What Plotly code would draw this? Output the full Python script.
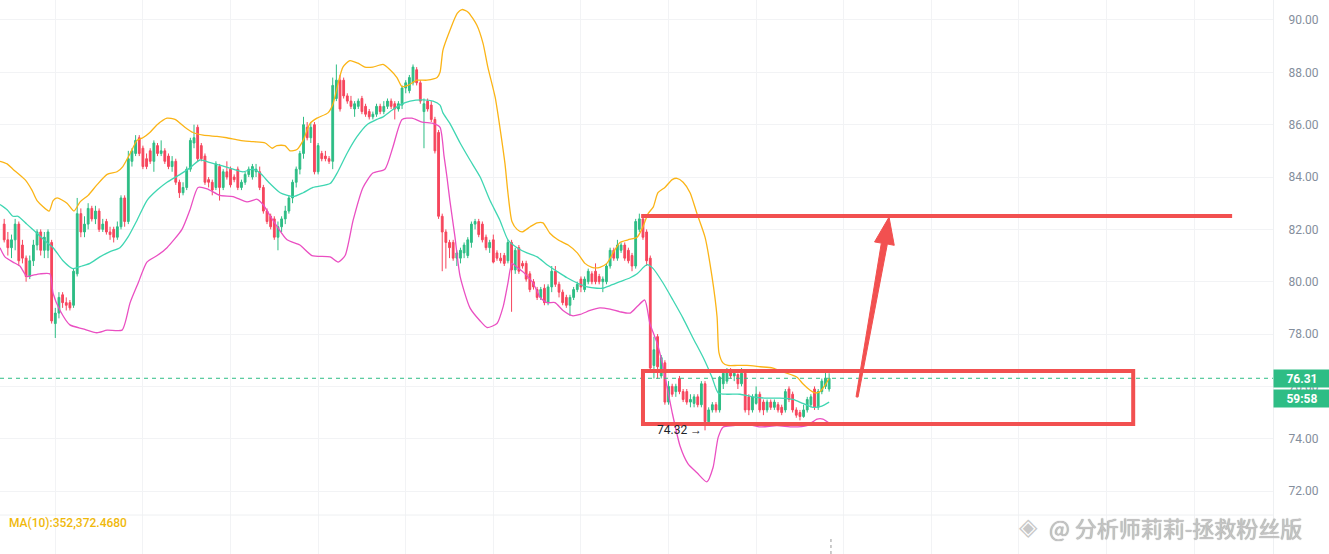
import plotly.graph_objects as go

# ---------------- data ----------------
opens = [
    82.2, 81.6, 81.3, 81.6, 82.2, 81.4, 80.9, 80.2, 80.8, 81.4,
    81.9, 81.2, 81.2, 81.5, 78.4, 78.8, 79.5, 79.2, 79.2, 79.1,
    80.3, 82.6, 81.9, 82.2, 82.8, 82.4, 82.7, 82.0, 82.3, 81.9,
    82.0, 81.7, 82.1, 83.2, 82.3, 84.6, 84.9, 85.5, 85.1, 84.7,
    85.0, 84.6, 85.2, 84.9, 85.0, 84.8, 84.4, 84.6, 83.8, 83.4,
    83.6, 84.3, 85.3, 85.9, 85.2, 84.8, 83.9, 83.8, 83.6, 84.4,
    83.6, 84.2, 84.3, 84.0, 84.3, 83.6, 83.8, 84.1, 84.0, 84.2,
    84.2, 83.6, 82.7, 82.5, 82.4, 81.7, 82.1, 82.4, 82.7, 83.2,
    83.8, 84.3, 84.9, 85.9, 85.5, 86.0, 84.2, 84.9, 84.8, 84.7,
    84.6, 87.0, 87.7, 87.7, 87.1, 86.9, 86.6, 86.7, 87.0, 86.7,
    86.5, 86.3, 86.4, 86.7, 86.5, 86.7, 86.9, 86.8, 86.6, 86.75,
    87.4, 87.3, 87.6, 88.1, 87.6, 86.5, 86.9, 86.75, 86.2, 85.7,
    82.5, 81.9, 81.5, 81.5, 80.9, 80.9, 81.1, 81.0, 81.5, 82.2,
    82.3, 82.2, 81.7, 81.3, 81.6, 81.1, 80.9, 81.0, 80.8, 81.5,
    80.45, 81.3, 80.7, 80.7, 80.3, 80.0, 79.7, 79.4, 79.75, 79.2,
    79.8, 80.4, 79.9, 79.6, 79.4, 79.1, 79.4, 79.7, 80.1, 79.7,
    80.0, 80.3, 80.4, 80.2, 80.0, 80.0, 80.6, 81.2, 80.9, 81.2,
    81.4, 81.2, 81.0, 80.6, 82.0, 82.4, 81.9, 80.9, 76.8, 77.9,
    76.4, 76.9, 75.4, 76.0, 75.8, 76.3, 75.8, 75.8, 75.4, 75.35,
    75.6, 75.3, 76.1, 74.65, 75.1, 75.3, 75.1, 76.1, 76.2, 76.6,
    76.4, 76.45, 76.1, 76.5, 75.6, 75.1, 75.35, 75.7, 75.4, 75.1,
    75.4, 75.2, 75.3, 75.2, 75.1, 75.9, 75.7, 75.1, 75.0, 74.85,
    75.1, 75.3, 75.9, 75.2, 75.8, 76.0, 75.9,
]
highs = [
    82.4, 81.9, 81.8, 82.4, 82.3, 81.6, 81.0, 81.0, 81.6, 82.0,
    82.0, 81.9, 82.0, 81.6, 79.0, 79.6, 79.6, 79.4, 79.3, 80.5,
    83.2, 82.8, 82.5, 83.0, 82.9, 82.9, 82.8, 82.4, 82.4, 82.1,
    82.1, 82.3, 83.3, 83.3, 85.0, 85.1, 85.6, 85.6, 85.2, 84.9,
    85.1, 85.4, 85.3, 85.4, 85.1, 84.9, 84.8, 84.7, 83.9, 83.8,
    84.4, 85.5, 86.0, 86.0, 85.3, 84.9, 84.0, 83.9, 84.6, 84.5,
    84.3, 84.6, 84.4, 84.1, 84.4, 83.9, 84.2, 84.4, 84.5, 84.5,
    84.4, 83.7, 82.8, 82.6, 82.5, 82.3, 82.5, 82.9, 83.3, 83.9,
    84.4, 85.0, 86.3, 86.1, 86.1, 86.1, 85.3, 85.0, 85.0, 84.8,
    87.8, 88.3, 87.9, 87.8, 87.2, 87.1, 86.9, 87.0, 87.1, 86.8,
    86.6, 86.5, 86.8, 86.8, 86.9, 87.0, 87.0, 86.9, 86.9, 87.5,
    87.7, 87.9, 88.3, 88.2, 87.7, 87.0, 87.0, 86.9, 86.3, 85.8,
    82.6, 82.0, 81.6, 81.6, 81.2, 81.3, 81.5, 81.7, 82.3, 82.4,
    82.4, 82.3, 81.8, 81.6, 81.8, 81.2, 81.1, 81.1, 81.6, 81.6,
    81.3, 81.4, 80.8, 80.8, 80.4, 80.1, 79.8, 79.8, 79.9, 79.9,
    80.6, 80.6, 80.0, 79.7, 79.5, 79.5, 79.8, 80.0, 80.2, 80.2,
    80.5, 80.4, 80.7, 80.3, 80.2, 80.7, 81.3, 81.3, 81.6, 81.5,
    81.5, 81.3, 81.1, 82.4, 82.6, 82.5, 82.0, 81.0, 77.9, 78.0,
    77.2, 77.0, 76.2, 76.1, 76.1, 76.4, 75.9, 75.9, 75.7, 75.7,
    75.7, 76.2, 76.2, 75.2, 75.4, 75.4, 76.4, 76.6, 76.7, 76.7,
    76.6, 76.5, 76.7, 76.6, 75.7, 75.7, 76.0, 75.8, 75.5, 75.5,
    75.5, 75.5, 75.4, 75.3, 75.9, 76.0, 75.8, 75.2, 75.1, 75.3,
    75.6, 75.7, 76.0, 75.9, 76.3, 76.6, 76.5,
]
lows = [
    81.5, 81.0, 80.9, 81.2, 80.6, 80.7, 80.0, 80.1, 80.6, 81.2,
    81.0, 80.9, 80.9, 78.4, 77.85, 78.6, 79.0, 78.9, 78.9, 79.0,
    80.2, 81.7, 81.7, 82.0, 82.3, 82.2, 81.9, 81.9, 81.8, 81.6,
    81.5, 81.6, 82.0, 82.1, 82.2, 84.4, 84.8, 84.8, 84.3, 84.3,
    84.5, 84.2, 84.8, 84.8, 84.5, 84.3, 84.2, 83.7, 83.2, 83.3,
    83.5, 84.2, 85.1, 84.6, 84.6, 83.7, 83.6, 83.3, 83.5, 83.1,
    83.5, 83.9, 83.6, 83.8, 83.5, 83.5, 83.7, 84.0, 83.9, 84.0,
    83.5, 82.6, 82.2, 82.0, 81.6, 81.2, 81.9, 82.2, 82.6, 83.0,
    83.6, 84.1, 84.7, 85.4, 85.3, 84.1, 84.1, 84.6, 84.6, 84.5,
    84.3, 86.9, 86.5, 87.0, 86.8, 86.6, 86.3, 86.6, 86.4, 86.3,
    86.2, 86.2, 86.3, 86.4, 86.4, 86.6, 86.6, 86.2, 86.5, 86.6,
    87.2, 87.2, 87.5, 87.5, 86.8, 85.1, 86.5, 86.1, 84.9, 82.4,
    80.4, 80.5, 80.9, 80.8, 80.6, 80.7, 80.9, 80.9, 81.3, 82.0,
    81.7, 81.5, 81.2, 81.1, 80.7, 80.8, 80.7, 80.6, 80.7, 78.85,
    80.3, 80.3, 80.5, 80.0, 79.6, 79.7, 79.3, 79.3, 79.1, 79.1,
    79.6, 79.8, 79.4, 79.1, 79.0, 78.7, 79.3, 79.6, 79.6, 79.6,
    79.9, 79.9, 79.9, 79.9, 79.6, 79.9, 80.5, 80.8, 80.8, 81.1,
    80.8, 80.7, 80.4, 80.5, 81.9, 81.6, 80.6, 76.6, 76.3, 76.3,
    76.3, 75.3, 75.3, 75.6, 75.6, 75.7, 75.4, 75.3, 75.2, 75.2,
    75.2, 75.2, 74.32, 74.5, 75.0, 75.0, 75.0, 75.9, 76.1, 76.3,
    76.2, 75.9, 76.0, 75.0, 74.9, 75.0, 75.3, 75.0, 74.9, 75.0,
    75.1, 75.1, 75.0, 74.9, 75.0, 75.4, 75.0, 74.8, 74.7, 74.8,
    75.0, 75.2, 75.1, 75.1, 75.7, 75.9, 75.8,
]
closes = [
    81.6, 81.3, 81.6, 82.2, 80.8, 80.9, 80.2, 80.8, 81.4, 81.9,
    81.2, 81.7, 81.9, 78.5, 78.8, 79.4, 79.2, 79.1, 79.0, 80.4,
    82.6, 81.9, 82.2, 82.8, 82.4, 82.7, 82.0, 82.2, 81.9, 81.8,
    81.7, 82.1, 83.2, 82.3, 84.7, 85.0, 85.4, 84.9, 84.4, 84.4,
    84.6, 85.3, 84.9, 85.0, 84.6, 84.4, 84.6, 83.8, 83.4, 83.6,
    84.3, 85.4, 85.5, 84.7, 84.7, 83.8, 83.8, 83.5, 84.5, 83.6,
    84.2, 84.0, 83.7, 83.9, 83.6, 83.8, 84.1, 84.3, 84.4, 84.3,
    83.6, 82.7, 82.3, 82.1, 81.7, 82.1, 82.4, 82.7, 83.2, 83.8,
    84.3, 84.9, 86.0, 85.5, 85.9, 84.2, 85.2, 84.7, 84.7, 84.6,
    87.5, 87.7, 86.6, 87.1, 86.9, 86.7, 86.8, 86.9, 86.5, 86.4,
    86.3, 86.4, 86.7, 86.5, 86.7, 86.9, 86.7, 86.6, 86.8, 87.4,
    87.6, 87.8, 88.2, 87.6, 86.9, 86.8, 86.6, 86.2, 85.0, 82.5,
    81.9, 81.5, 81.3, 80.9, 81.1, 81.2, 81.4, 81.6, 82.2, 82.3,
    81.8, 81.6, 81.3, 81.5, 80.75, 80.9, 80.8, 80.7, 81.5, 80.45,
    81.2, 80.4, 80.6, 80.1, 79.7, 79.8, 79.4, 79.7, 79.2, 79.8,
    80.4, 79.9, 79.6, 79.2, 79.1, 79.4, 79.7, 79.9, 79.8, 80.1,
    80.4, 80.0, 80.0, 80.0, 80.1, 80.6, 81.2, 80.9, 81.4, 81.4,
    80.9, 80.8, 80.6, 82.3, 82.4, 81.7, 80.8, 76.7, 77.4, 76.75,
    77.1, 75.4, 76.0, 75.7, 76.0, 75.8, 75.5, 75.4, 75.5, 75.6,
    75.3, 76.1, 74.65, 75.1, 75.3, 75.1, 76.35, 76.5, 76.6, 76.4,
    76.5, 76.1, 76.5, 75.1, 75.1, 75.6, 75.7, 75.1, 75.1, 75.4,
    75.2, 75.4, 75.1, 75.0, 75.8, 75.5, 75.1, 74.9, 74.85, 75.1,
    75.5, 75.6, 75.2, 75.8, 76.2, 76.3, 76.31,
]

# Bollinger bands (bar index, price)
upper_idx = [-1.15, 0.8, 2.4, 5.7, 7.6, 9.0, 12.3, 13.4, 14.5, 17.2, 19.1, 20.8, 23.0, 25.4, 28.2,
             30.9, 32.5, 34.5, 36.4, 38.0, 39.9, 41.9, 44.6, 46.8, 49.5, 51.7, 54.5, 58.3, 61.0,
             64.6, 68.2, 71.5, 73.4, 74.7, 76.9, 78.3, 80.2, 81.9, 83.8, 85.7, 88.7, 90.1, 91.5,
             92.8, 94.7, 96.9, 98.8, 101.0, 103.8, 105.7, 107.6, 109.0, 110.6, 113.1, 115.8, 118.6,
             119.4, 120.2, 122.1, 124.1, 125.4, 127.1, 129.5, 131.2, 132.5, 134.5, 135.8, 137.2,
             138.0, 139.1, 140.5, 141.9, 144.1, 146.0, 147.6, 149.5, 151.7, 154.5, 157.0, 159.1,
             161.0, 163.2, 165.1, 166.8, 168.7, 170.9, 173.4, 175.0, 176.4, 177.8, 179.1, 181.0,
             183.0, 184.3, 186.0, 187.9, 189.8, 192.0, 193.9, 195.3, 195.8, 196.9, 198.3, 200.8,
             203.5, 207.1, 210.6, 213.4, 217.2, 218.8, 220.8, 222.1, 223.5, 224.9, 226.0]
upper_val = [84.6, 84.5, 84.3, 83.9, 83.5, 83.1, 82.7, 83.1, 83.2, 83.0, 82.7, 83.05, 83.3, 83.7, 84.1,
             84.2, 84.4, 84.9, 85.4, 85.5, 85.7, 86.0, 86.25, 86.2, 85.9, 85.7, 85.6, 85.55, 85.5,
             85.4, 85.35, 85.3, 85.1, 85.2, 85.2, 85.0, 85.05, 85.4, 86.05, 86.25, 86.45, 86.8, 87.6,
             88.2, 88.45, 88.35, 88.2, 88.2, 88.3, 88.1, 87.8, 87.45, 87.5, 87.7, 87.7, 87.8,
             88.0, 88.85, 89.6, 90.25, 90.4, 90.3, 89.8, 89.1, 88.2, 87.05, 85.9, 84.5,
             83.4, 82.3, 82.0, 81.9, 82.1, 82.25, 82.25, 81.85, 81.6, 81.4, 81.1, 80.7,
             80.55, 80.55, 80.7, 81.1, 81.5, 81.6, 81.7, 82.1, 82.6, 82.85, 83.4, 83.6,
             83.9, 83.95, 83.8, 83.4, 82.6, 81.7, 80.2, 78.65, 77.3, 76.9, 76.8, 76.8,
             76.8, 76.75, 76.7, 76.55, 76.35, 76.1, 75.85, 75.75, 75.8, 76.05, 76.3]

mid_idx = [-1.15, 0.8, 2.4, 3.8, 6.2, 9.0, 11.7, 13.4, 16.1, 18.8, 21.3, 23.5, 26.2, 29.0, 31.7, 33.9,
           36.4, 39.1, 41.9, 44.6, 48.2, 50.9, 53.6, 56.4, 59.1, 62.7, 65.4, 68.2, 70.1, 72.8, 75.6,
           79.1, 81.9, 84.6, 89.3, 91.2, 93.9, 96.7, 99.4, 102.1, 103.8, 106.2, 108.4, 111.2, 114.7,
           117.5, 119.4, 120.2, 122.1, 124.9, 127.6, 130.4, 133.1, 135.8, 138.0, 140.5, 143.2, 146.0,
           148.7, 151.4, 154.2, 157.0, 159.7, 162.4, 164.0, 166.0, 168.7, 171.5, 173.4, 176.1, 177.8,
           180.5, 183.2, 186.0, 188.7, 191.5, 193.9, 195.6, 198.0, 201.6, 205.1, 209.0, 212.5, 216.1,
           218.8, 221.6, 224.0, 226.0]
mid_val = [82.95, 82.75, 82.5, 82.5, 82.2, 81.85, 81.5, 81.3, 80.8, 80.5, 80.6, 80.7, 80.95, 81.15, 81.3, 81.7,
           82.35, 83.1, 83.5, 83.8, 84.1, 84.35, 84.65, 84.55, 84.45, 84.3, 84.2, 84.3, 84.15, 83.75, 83.4,
           83.25, 83.4, 83.6, 83.75, 84.15, 84.9, 85.55, 86.0, 86.2, 86.3, 86.55, 86.75, 86.9, 86.95,
           86.9, 86.75, 86.45, 86.05, 85.3, 84.65, 84.0, 83.1, 82.35, 81.6, 81.3, 81.1, 80.95,
           80.65, 80.4, 80.15, 79.95, 79.8, 79.75, 79.75, 79.85, 80.0, 80.15, 80.3, 80.65, 80.5,
           79.95, 79.3, 78.6, 77.85, 77.1, 76.35, 75.75, 75.7, 75.7, 75.6, 75.55, 75.55, 75.5,
           75.35, 75.2, 75.25, 75.4]

lower_idx = [-1.15, 0.2, 2.4, 4.3, 6.2, 7.9, 9.8, 12.5, 13.4, 15.3, 18.0, 21.6, 25.4, 28.2, 32.3, 34.5,
             36.7, 39.1, 41.9, 44.6, 48.7, 50.9, 53.1, 55.6, 59.1, 62.7, 66.5, 69.3, 70.9, 73.6, 77.5,
             81.0, 84.3, 89.3, 91.5, 93.4, 95.6, 98.3, 101.0, 104.3, 106.5, 109.0, 111.7, 114.5, 117.5,
             119.4, 120.5, 121.3, 122.1, 123.5, 124.9, 127.6, 130.4, 132.3, 135.0, 136.7, 138.0, 139.1,
             140.5, 142.7, 144.9, 146.8, 148.7, 150.9, 153.1, 155.6, 157.8, 160.5, 163.2, 166.0, 168.7,
             171.5, 173.4, 175.5, 176.9, 178.9, 180.5, 183.0, 185.2, 187.3, 189.8, 192.5, 194.2, 195.6,
             197.0, 199.7, 203.5, 207.1, 211.7, 216.1, 219.9, 222.7, 224.3, 226.0]
lower_val = [81.3, 80.95, 80.75, 80.6, 80.2, 80.25, 80.3, 80.3, 79.55, 78.9, 78.35, 78.2, 78.05, 78.15, 78.15, 79.2,
             79.95, 80.75, 81.0, 81.3, 82.0, 82.75, 83.6, 83.55, 83.3, 83.25, 83.05, 83.15, 82.95, 82.35, 81.6,
             81.4, 81.0, 80.95, 80.75, 81.0, 82.35, 83.6, 84.15, 84.3, 85.15, 86.2, 86.25, 86.1, 86.05,
             85.9, 84.8, 84.0, 83.1, 81.7, 80.2, 79.0, 78.5, 78.25, 78.4, 79.05, 79.95, 80.7,
             80.55, 80.3, 79.95, 79.4, 79.2, 79.2, 78.9, 78.7, 78.75, 78.9, 79.0, 78.95, 78.85,
             78.8, 79.05, 79.3, 78.4, 77.65, 76.75, 75.0, 73.7, 73.05, 72.7, 72.35, 72.9, 74.05,
             74.45, 74.5, 74.55, 74.45, 74.5, 74.45, 74.5, 74.75, 74.75, 74.6]

y_ticks = [72, 74, 76, 78, 80, 82, 84, 86, 88, 90]
ma_label = "MA(10):352,372.4680"
countdown = "59:58"
watermark = "@ 分析师莉莉-拯救粉丝版"

# target zone / resistance drawn on the chart (bar index, price)
zone_x = [175.0, 309.3]
zone_y = [74.56, 76.59]
resist_x = [174.5, 336.4]
resist_y = 82.51
arrow_pts = [(233.37, 75.60), (240.30, 81.475), (238.44, 81.52), (242.41, 82.47),
             (243.84, 81.39), (241.95, 81.44), (233.92, 75.59)]

# ---------------- styling ----------------
GREEN = "#2ebd85"
RED = "#f6465d"
MARK = "#f25050"
UPPER_C = "#fbb416"
MID_C = "#3fd6b2"
LOW_C = "#ea4fc2"
GRID = "#f2f3f5"
FONT = "Roboto"

n = min(len(opens), len(highs), len(lows), len(closes))
idx = list(range(n))

fig = go.Figure()
fig.add_trace(go.Candlestick(
    x=idx, open=opens[:n], high=highs[:n], low=lows[:n], close=closes[:n],
    increasing=dict(line=dict(color=GREEN, width=1), fillcolor=GREEN),
    decreasing=dict(line=dict(color=RED, width=1), fillcolor=RED),
    whiskerwidth=0, showlegend=False, hoverinfo="skip",
))
for xs, ys, col in [(upper_idx, upper_val, UPPER_C), (mid_idx, mid_val, MID_C), (lower_idx, lower_val, LOW_C)]:
    fig.add_trace(go.Scatter(x=xs, y=ys, mode="lines", showlegend=False, hoverinfo="skip",
                             line=dict(color=col, width=1.3, shape="spline", smoothing=0.6)))

last = closes[n - 1]
low_i = min(range(n), key=lambda i: lows[i])

path = "M " + " L ".join(f"{x},{y}" for x, y in arrow_pts) + " Z"

shapes = [
    # pane separator
    dict(type="line", xref="paper", yref="paper", x0=0, x1=1, y0=39 / 554, y1=39 / 554,
         line=dict(color="#eef0f2", width=1)),
    # current price line
    dict(type="line", xref="paper", yref="y", x0=0, x1=1, y0=last, y1=last,
         line=dict(color=GREEN, width=1, dash="4px,4px")),
    # current bar marker in bottom pane
    dict(type="line", xref="x", yref="paper", x0=idx[-1] + 0.5, x1=idx[-1] + 0.5, y0=0, y1=0.03,
         line=dict(color="#999999", width=1, dash="dot")),
    # red target zone
    dict(type="rect", xref="x", yref="y", x0=zone_x[0], x1=zone_x[1], y0=zone_y[0], y1=zone_y[1],
         line=dict(color=MARK, width=4), fillcolor="rgba(0,0,0,0)"),
    # resistance line
    dict(type="line", xref="x", yref="y", x0=resist_x[0], x1=resist_x[1], y0=resist_y, y1=resist_y,
         line=dict(color=MARK, width=4)),
    # arrow
    dict(type="path", xref="x", yref="y", path=path, fillcolor=MARK, line=dict(color=MARK, width=1)),
]

annotations = [
    dict(x=1, xref="paper", y=last, yref="y", xanchor="left", yanchor="middle", showarrow=False,
         text=f"<b>{last:.2f}</b>", font=dict(family=FONT, size=12, color="white"),
         bgcolor=GREEN, width=56, height=17, borderpad=0, align="center"),
    dict(x=1, xref="paper", y=last, yref="y", xanchor="left", yanchor="middle", showarrow=False,
         yshift=-20, text=f"<b>{countdown}</b>", font=dict(family=FONT, size=12, color="white"),
         bgcolor=GREEN, width=56, height=17, borderpad=0, align="center"),
    dict(x=low_i, xref="x", y=lows[low_i], yref="y", xanchor="right", yanchor="middle", showarrow=False,
         xshift=-1, text=f"{lows[low_i]:.2f} →", font=dict(family=FONT, size=12, color="#1e2329")),
    dict(x=7 / 1273, xref="paper", y=31 / 554, yref="paper", xanchor="left", yanchor="middle",
         showarrow=False, text=ma_label, font=dict(family=FONT, size=12, color="#f0b90b", weight=500)),
    dict(x=1028 / 1273, xref="paper", y=27 / 554, yref="paper", xanchor="center", yanchor="middle",
         showarrow=False, text="◈", font=dict(family="DejaVu Sans", size=24, color="#c8c8c8")),
    dict(x=1047 / 1273, xref="paper", y=27 / 554, yref="paper", xanchor="left", yanchor="middle",
         showarrow=False, text=watermark,
         font=dict(family="Noto Sans CJK SC", size=22, color="#c4c4c4", shadow="0px 0px 1px #8a8a8a")),
]

fig.update_layout(
    width=1329, height=554, autosize=False,
    margin=dict(l=0, r=56, t=0, b=0),
    paper_bgcolor="white", plot_bgcolor="white",
    shapes=shapes, annotations=annotations,
    xaxis=dict(range=[-1.15, 347.6], tick0=14, dtick=24, showgrid=True, gridcolor=GRID,
               showticklabels=False, zeroline=False, rangeslider=dict(visible=False),
               showline=False, fixedrange=True),
    yaxis=dict(range=[69.595, 90.764], side="right", tickvals=y_ticks,
               ticktext=[f"{v:.2f}" for v in y_ticks], showgrid=True, gridcolor=GRID,
               zeroline=False, showline=True, linecolor="#eef0f2", ticks="",
               ticklabelstandoff=12, tickfont=dict(family=FONT, size=12, color="#848e9c"),
               fixedrange=True),
    hovermode=False,
)

fig.write_html(
    "out.html",
    config={"displayModeBar": False},
    post_script="document.body.style.margin='0';document.body.style.overflow='hidden';",
)
